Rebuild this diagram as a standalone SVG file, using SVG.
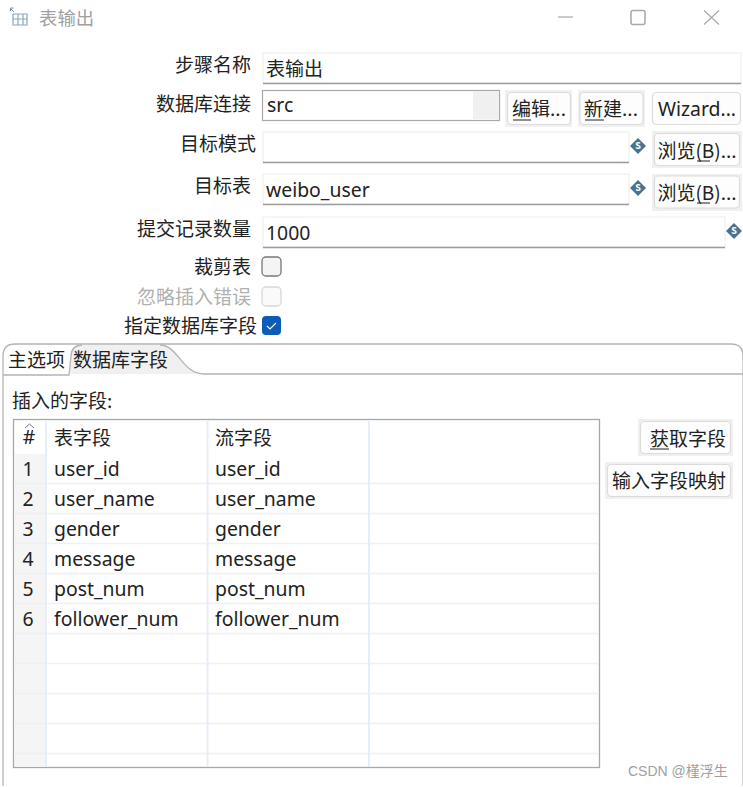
<svg xmlns="http://www.w3.org/2000/svg" width="743" height="787" viewBox="0 0 743 787">
<style>
text{font-family:"Noto Sans CJK SC","Open Sans","Noto Sans",sans-serif;font-size:19px;fill:#222}
.l{text-anchor:end}
.lat{font-family:"Noto Sans","Open Sans","Noto Sans CJK SC",sans-serif;font-size:19.400px}
.f{fill:#fff;stroke:#ececec;stroke-width:1}
.u{stroke:#9c9c9c;stroke-width:1.5;fill:none}
.b{fill:#fdfdfd;stroke:#dcdcdc;stroke-width:1.2}
.c{text-anchor:middle}
.g{stroke:#eef0f2;stroke-width:1.5}
.v{stroke:#e6eef8;stroke-width:2}
.s{fill:#4a7390}
.st{font-size:9px;fill:#fff;text-anchor:middle;font-weight:bold}
.wm{font-family:"Liberation Sans","Noto Sans CJK SC",sans-serif;font-size:14px;fill:#a0a0a0}
</style>
<rect width="743" height="787" fill="#fff"/>
<g id="titlebar">
<path d="M10 8l4 4M10.500 11V8h3" stroke="#6f8fa8" stroke-width="1" fill="none"/>
<path d="M13 14H27V25H13ZM13 19H27M18 14V25M23 14V25" stroke="#8ba5ba" stroke-width="1.2" fill="none"/>
<text x="39" y="25" style="fill:#a0a0a0;font-size:18.400px">表输出</text>
<path d="M558 17H573" stroke="#a8a8a8" stroke-width="1.2"/>
<rect x="631" y="10.500" width="14" height="14" rx="2" fill="none" stroke="#a8a8a8" stroke-width="1.500"/>
<path d="M704 10.500L719 24.500M719 10.500L704 24.500" stroke="#a8a8a8" stroke-width="1.200"/>
</g>
<g id="step-name">
<text class="l" x="251" y="72">步骤名称</text>
<rect class="f" x="263" y="53" width="478" height="30"/><path class="u" d="M263 83.500H741"/>
<text x="266" y="76">表输出</text>
</g>
<g id="connection">
<text class="l" x="251" y="111">数据库连接</text>
<rect x="262.500" y="90.500" width="237" height="30" fill="#fff" stroke="#a8a8a8" stroke-width="1.200"/>
<rect x="473" y="91" width="26" height="28" fill="#f0f0f0"/>
<text class="lat" x="267" y="112">src</text>
<rect x="505" y="90" width="67" height="37" fill="#f0f0f0"/>
<rect class="b" x="507.500" y="92.500" width="63" height="32" rx="4"/>
<text class="c" x="539" y="116">编辑...</text>
<path d="M513 120H531" stroke="#222"/>
<rect x="578" y="90" width="67" height="37" fill="#f0f0f0"/>
<rect class="b" x="580" y="92.500" width="63" height="32" rx="4"/>
<text class="c" x="611" y="116">新建...</text>
<path d="M585 120H604" stroke="#222"/>
<rect class="b" x="652.500" y="92.500" width="88" height="32" rx="4"/>
<text class="c lat" x="697" y="116">Wizard...</text>
</g>
<g id="target-schema">
<text class="l" x="256" y="151">目标模式</text>
<rect class="f" x="263" y="132" width="366" height="30"/><path class="u" d="M263 162.500H629"/>
<path class="s" d="M638 138l8 8-8 8-8-8z"/><text class="st" x="638" y="149">S</text>
<rect x="652" y="131" width="90" height="37" fill="#f0f0f0"/>
<rect class="b" x="654.500" y="133.500" width="85" height="32" rx="4"/>
<text class="c" x="697" y="158">浏览(B)...</text>
<path d="M697 161H710" stroke="#222"/>
</g>
<g id="target-table">
<text class="l" x="251" y="193">目标表</text>
<rect class="f" x="263" y="174" width="366" height="30"/><path class="u" d="M263 204.500H629"/>
<text class="lat" x="266" y="197">weibo_user</text>
<path class="s" d="M638 180l8 8-8 8-8-8z"/><text class="st" x="638" y="191">S</text>
<rect x="652" y="174" width="90" height="37" fill="#f0f0f0"/>
<rect class="b" x="654.500" y="176" width="85" height="32" rx="4"/>
<text class="c" x="697" y="200">浏览(B)...</text>
<path d="M697 203H710" stroke="#222"/>
</g>
<g id="commit-size">
<text class="l" x="251" y="236">提交记录数量</text>
<rect class="f" x="263" y="217" width="462" height="30"/><path class="u" d="M263 247.500H725"/>
<text class="lat" x="266" y="240">1000</text>
<path class="s" d="M734 223l8 8-8 8-8-8z"/><text class="st" x="734" y="234">S</text>
</g>
<g id="truncate">
<text class="l" x="251" y="274">裁剪表</text>
<rect x="262" y="257" width="19" height="19" rx="4" fill="#f4f4f4" stroke="#777" stroke-width="1.300"/>
</g>
<g id="ignore-errors">
<text class="l" x="251" y="304" style="fill:#b0b0b0">忽略插入错误</text>
<rect x="262" y="287" width="19" height="19" rx="4" fill="#fafafa" stroke="#d8d8d8" stroke-width="1.300"/>
</g>
<g id="specify-fields">
<text class="l" x="257" y="333">指定数据库字段</text>
<rect x="262" y="316" width="19" height="19" rx="4" fill="#0a5cb8"/>
<path d="M267 326l3 3 6-6" fill="none" stroke="#fff" stroke-width="1.200"/>
</g>
<g id="tabs">
<path d="M3 786V356Q3 344 15 344H731Q743 344 743 356V786" fill="none" stroke="#b4b4b4" stroke-width="1.300"/>
<path d="M70 374V354Q70 345 80 345H160C178 345 182 374 204 374Z" fill="#f0f0f0"/>
<path d="M3 375H69L71 356Q72 345 82 345M160 345C178 345 182 374 204 374H743" fill="none" stroke="#b4b4b4" stroke-width="1.300"/>
<text x="8" y="367">主选项</text>
<text x="73" y="367">数据库字段</text>
</g>
<g id="fields-table">
<text x="12" y="408">插入的字段:</text>
<rect x="13.500" y="419.500" width="586" height="348" fill="#fff" stroke="#a4a8ac" stroke-width="1.300"/>
<rect x="15" y="454" width="30" height="313" fill="#f5f5f5"/>
<path class="g" d="M15 483.500H598M15 513.500H598M15 543.500H598M15 573.500H598M15 603.500H598M15 633.500H598M15 663.500H598M15 693.500H598M15 723.500H598M15 753.500H598"/>
<path class="v" d="M46 421V767M207.500 421V767M369 421V767"/>
<path d="M25 428l4.500-4 4.500 4" fill="none" stroke="#777"/>
<text class="c lat" x="29" y="444">#</text>
<text x="54" y="445">表字段</text><text x="215" y="445">流字段</text>
<g>
<text class="c lat" x="28" y="476">1</text><text class="lat" x="54" y="476">user_id</text><text class="lat" x="215" y="476">user_id</text>
<text class="c lat" x="28" y="506">2</text><text class="lat" x="54" y="506">user_name</text><text class="lat" x="215" y="506">user_name</text>
<text class="c lat" x="28" y="536">3</text><text class="lat" x="54" y="536">gender</text><text class="lat" x="215" y="536">gender</text>
<text class="c lat" x="28" y="566">4</text><text class="lat" x="54" y="566">message</text><text class="lat" x="215" y="566">message</text>
<text class="c lat" x="28" y="596">5</text><text class="lat" x="54" y="596">post_num</text><text class="lat" x="215" y="596">post_num</text>
<text class="c lat" x="28" y="626">6</text><text class="lat" x="54" y="626">follower_num</text><text class="lat" x="215" y="626">follower_num</text>
</g>
</g>
<g id="get-fields">
<rect x="638" y="419" width="95" height="37" fill="#f0f0f0"/>
<rect class="b" x="640.500" y="421.500" width="90" height="32" rx="4"/>
<text class="c" x="688" y="446">获取字段</text>
<path d="M650 449H669" stroke="#222"/>
</g>
<g id="enter-mapping">
<rect x="605" y="462" width="128" height="37" fill="#f0f0f0"/>
<rect class="b" x="607.500" y="464.500" width="123" height="32" rx="4"/>
<text class="c" x="669" y="488">输入字段映射</text>
</g>
<text class="wm" x="628" y="776">CSDN @槿浮生</text>
</svg>
